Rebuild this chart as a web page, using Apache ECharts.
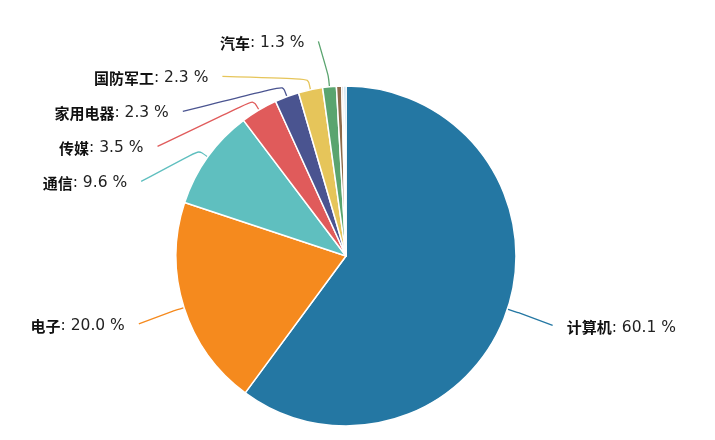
<!DOCTYPE html>
<html><head><meta charset="utf-8">
<script src="https://cdn.jsdelivr.net/npm/echarts@6/dist/echarts.min.js"></script>
<style>html,body{margin:0;padding:0;background:#fff}#c{width:715px;height:440px}</style>
</head><body><div id="c"></div>
<script>
const names = ['计算机','电子','通信','传媒','家用电器','国防军工','汽车','其他A','其他B','其他C'];
const values = [60.1,20.0,9.6,3.5,2.3,2.3,1.3,0.5,0.2,0.2];
const colors = ['#2477a3','#f58a1e','#5fbfbf','#e05b5b','#4a5490','#e6c55a','#5aa46f','#8e6a4a','#c9c9c9','#8fb8d8'];
const showLabel = [true,true,true,true,true,true,true,false,false,false];

// geometry settings
const CX = 346, CY = 256, R = 170;
const L1 = 11, L2 = 10, RR = 218, OFF = 13, GAP = 35, TXT = 14;

// label layout computed from the data (older ECharts style: second segment runs to the shifted label)
const total = values.reduce((a,b)=>a+b,0);
const layouts = {};
(function(){
  let acc = 0;
  const items = [];
  values.forEach((v,i)=>{
    const mid = (acc + v/2)/total*Math.PI*2; acc += v;
    if(!showLabel[i]) return;
    const sx = Math.sin(mid), sy = -Math.cos(mid);
    const p0 = [CX+R*sx, CY+R*sy];
    const p1 = [CX+(R+L1)*sx, CY+(R+L1)*sy];
    items.push({i, sx, sy, p0, p1, dir: sx<0?-1:1, want: p1[1]+OFF});
  });
  [-1,1].forEach(dir=>{
    const list = items.filter(d=>d.dir===dir).sort((a,b)=>a.want-b.want);
    let clusters = list.map(d=>({items:[d], y:d.want}));
    let merged = true;
    while(merged){
      merged = false;
      for(let k=0;k<clusters.length-1;k++){
        const a = clusters[k], b = clusters[k+1];
        if(a.y + a.items.length*GAP > b.y){
          const its = a.items.concat(b.items);
          let s = 0; its.forEach((d,j)=>{s += d.want - j*GAP;});
          clusters.splice(k,2,{items:its, y:s/its.length});
          merged = true; break;
        }
      }
    }
    clusters.forEach(c=>c.items.forEach((d,j)=>{d.y = c.y + j*GAP;}));
    list.forEach(d=>{
      const dy = Math.abs(d.y - CY);
      let dx;
      if(dy < R+L1) dx = Math.sqrt(RR*RR - dy*dy);
      else dx = Math.abs(d.p1[0] + dir*L2 - CX);
      d.x = CX + dir*dx;
      layouts[d.i] = {
        x: d.x + dir*TXT, y: d.y + 2,
        align: dir<0?'right':'left', verticalAlign:'middle',
        labelLinePoints: [d.p0, d.p1, [d.x, d.y]]
      };
    });
  });
})();

const chart = echarts.init(document.getElementById('c'));
chart.setOption({
  animation:false,
  series:[{
    type:'pie',
    center:[CX,CY],
    radius:[0,R],
    startAngle:90,
    clockwise:true,
    itemStyle:{borderColor:'#fff',borderWidth:1.5},
    label:{
      formatter:p=>'{n|'+p.name+'}{v|: '+p.value.toFixed(1)+' %}',
      rich:{
        n:{fontFamily:'Noto Sans CJK SC',fontWeight:'bold',fontSize:15,color:'#111'},
        v:{fontFamily:'DejaVu Sans',fontSize:15.5,color:'#222'}
      }
    },
    labelLine:{length:L1,length2:L2,smooth:0.25,lineStyle:{width:1.3}},
    labelLayout:p=>layouts[p.dataIndex] || {},
    data:names.map((n,i)=>({name:n,value:values[i],itemStyle:{color:colors[i]},
      label:{show:showLabel[i]},labelLine:{show:showLabel[i]}}))
  }]
});
</script></body></html>
